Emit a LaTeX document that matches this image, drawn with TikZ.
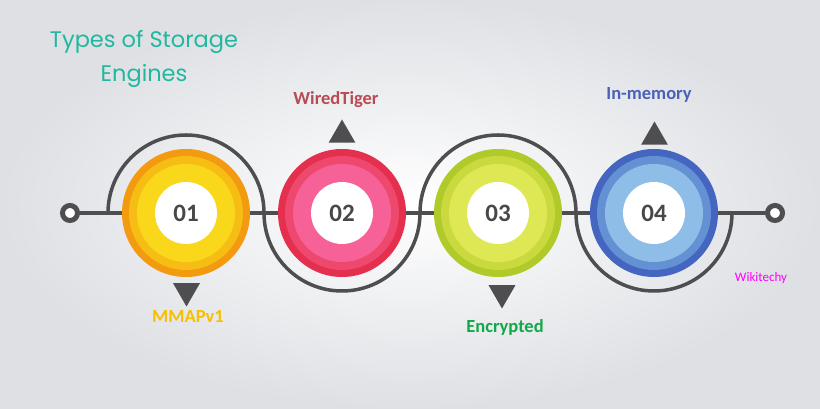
\documentclass[tikz,border=0pt]{standalone}
\usepackage{fontspec}
\setmainfont{Carlito}
\newfontfamily\titlefont{Poppins}
\usepackage{tikz}
\usetikzlibrary{positioning}
\usetikzlibrary{shapes.geometric}

\definecolor{wiregray}{RGB}{78,78,80}
\definecolor{numgray}{RGB}{72,72,74}
\definecolor{bgedge}{RGB}{222,224,228}
\definecolor{titleteal}{RGB}{32,184,160}
\definecolor{orA}{RGB}{243,154,16}
\definecolor{orB}{RGB}{246,190,20}
\definecolor{orC}{RGB}{249,216,28}
\definecolor{rdA}{RGB}{228,48,78}
\definecolor{rdB}{RGB}{238,72,110}
\definecolor{rdC}{RGB}{246,98,152}
\definecolor{grA}{RGB}{176,202,42}
\definecolor{grB}{RGB}{202,218,62}
\definecolor{grC}{RGB}{222,232,84}
\definecolor{blA}{RGB}{68,102,192}
\definecolor{blB}{RGB}{100,144,212}
\definecolor{blC}{RGB}{142,190,232}
\definecolor{mmapcol}{RGB}{246,192,0}
\definecolor{wiredcol}{RGB}{185,75,85}
\definecolor{memcol}{RGB}{74,97,183}
\definecolor{enccol}{RGB}{18,168,74}
\definecolor{brandcol}{RGB}{255,0,255}

\tikzset{
  wire/.style={draw=wiregray, line width=3.5pt},
  disc/.style={circle, inner sep=0pt, minimum size=#1},
  numtext/.style={font=\bfseries\fontsize{25}{25}\selectfont, text=numgray},
  pointer/.style={regular polygon, regular polygon sides=3, fill=wiregray,
    inner sep=0pt, minimum size=31pt},
  engine/.style={font=\bfseries\fontsize{18.5}{20}\selectfont, anchor=base},
  endpoint/.style={circle, draw=wiregray, line width=5pt, fill=white,
    inner sep=0pt, minimum size=15pt},
}

\begin{document}
\begin{tikzpicture}[x=1pt, y=1pt]
    \shade[inner color=white, outer color=bgedge] (0,0) rectangle (820,409);
    \useasboundingbox (0,0) rectangle (820,409);

    \node[text=titleteal, font=\titlefont\fontsize{22.5}{34}\selectfont,
      align=center, anchor=base] (title) at (144,327) {Types of Storage\\Engines};

    \coordinate (left) at (70,196);
    \coordinate (right) at (775,196);
    \coordinate (bend) at (108,196);
    \draw[wire] (left) -- (right);
    \draw[wire] (bend) arc[start angle=180, end angle=0, radius=78]
      arc[start angle=180, end angle=360, radius=78]
      arc[start angle=180, end angle=0, radius=78]
      arc[start angle=180, end angle=360, radius=78];

    \foreach \n/\x/\a/\b/\c in {1/186/orA/orB/orC, 2/342/rdA/rdB/rdC,
                                3/498/grA/grB/grC, 4/654/blA/blB/blC} {
        \node[disc=128pt, fill=\a] (ring\n) at (\x,196) {};
        \node[disc=114pt, fill=\b] at (ring\n) {};
        \node[disc=98pt, fill=\c] at (ring\n) {};
        \node[disc=62pt, fill=white, numtext] (num\n) at (ring\n) {0\n};
    }

    \node[endpoint] (startdot) at (left) {};
    \node[endpoint] (enddot) at (right) {};

    \node[pointer, shape border rotate=180] (tri1) at (186.5,118) {};
    \node[pointer] (tri2) at (342,274) {};
    \node[pointer, shape border rotate=180] (tri3) at (502,116) {};
    \node[pointer] (tri4) at (654.5,272) {};

    \node[engine, text=mmapcol] (mmap) at (188,86) {MMAPv1};
    \node[engine, text=wiredcol] (wired) at (336,304) {WiredTiger};
    \node[engine, text=enccol] (enc) at (505,76) {Encrypted};
    \node[engine, text=memcol] (mem) at (649,309) {In-memory};

    \node[font=\fontsize{13}{13}\selectfont, text=brandcol, anchor=base] (brand) at (761,127) {Wikitechy};
\end{tikzpicture}
\end{document}
